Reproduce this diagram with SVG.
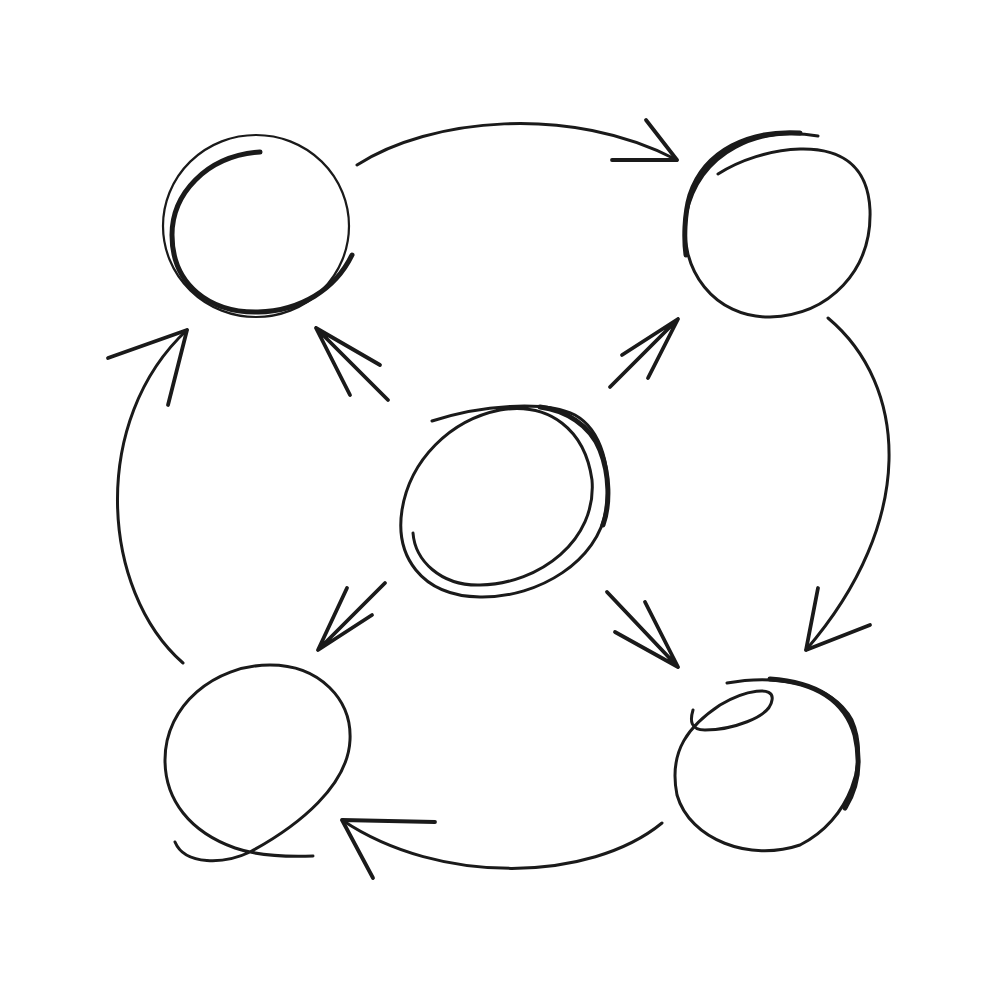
<svg xmlns="http://www.w3.org/2000/svg" width="1000" height="1000" viewBox="0 0 1000 1000">
  <style>
    .ink { fill: none; stroke: #1a1a1a; stroke-linecap: round; stroke-linejoin: round; }
    .thin { stroke-width: 2.2; }
    .mid { stroke-width: 3; }
    .thick { stroke-width: 5; }
    .barb { stroke-width: 3.8; }
  </style>
  <rect width="1000" height="1000" fill="#ffffff"/>

  <g id="node-top-left">
    <ellipse class="ink thin" cx="256" cy="226" rx="93" ry="91"/>
    <path class="ink thick" d="M260,152 C205,156 172,195 172,235 C172,285 210,313 258,312 C300,311 335,290 352,255"/>
  </g>

  <g id="node-top-right">
    <path class="ink mid" d="M818,136 C760,126 700,150 686,215 C678,270 715,318 770,317 C830,315 872,270 870,210 C868,165 840,148 800,149 C770,150 740,160 718,174"/>
    <path class="ink thick" d="M800,133 C750,130 705,150 690,195 C684,215 684,240 686,255"/>
  </g>

  <g id="node-center">
    <path class="ink mid" d="M432,421 C480,405 545,400 575,415 C602,430 612,470 606,510 C598,560 540,598 480,597 C420,596 395,555 402,510 C410,460 450,420 500,410 C550,402 585,430 592,480 C597,540 540,584 480,585 C440,586 415,560 413,533"/>
    <path class="ink thick" d="M540,407 C565,410 590,425 600,450 C610,475 610,505 603,525"/>
  </g>

  <g id="node-bottom-left">
    <path class="ink mid" d="M313,856 C285,857 255,855 235,848 C190,832 165,800 165,760 C165,705 215,665 270,665 C320,665 352,700 350,740 C348,785 300,825 250,852 C225,864 185,866 175,842"/>
  </g>

  <g id="node-bottom-right">
    <path class="ink mid" d="M727,683 C770,675 830,680 852,720 C870,760 850,820 800,845 C750,862 690,840 677,795 C668,750 690,725 720,705 C745,690 775,685 772,700 C770,718 730,730 705,730 C690,730 690,720 693,710"/>
    <path class="ink thick" d="M770,679 C815,682 845,700 855,735 C862,765 856,790 845,808"/>
  </g>

  <g id="connectors">
    <!-- top: top-left to top-right -->
    <path class="ink mid" d="M357,165 C430,118 570,104 677,160"/>
    <path class="ink barb" d="M646,120 L677,160 M612,160 L677,160"/>
    <!-- right: top-right to bottom-right -->
    <path class="ink mid" d="M828,318 C908,385 918,520 806,650"/>
    <path class="ink barb" d="M818,588 L806,650 L870,625"/>
    <!-- bottom: bottom-right to bottom-left -->
    <path class="ink mid" d="M662,823 C590,882 440,886 342,820"/>
    <path class="ink barb" d="M435,822 L342,820 L373,878"/>
    <!-- left: bottom-left to top-left -->
    <path class="ink mid" d="M183,663 C100,590 90,420 187,330"/>
    <path class="ink barb" d="M108,358 L187,330 L168,405"/>
    <!-- center to top-left -->
    <path class="ink barb" d="M388,400 L316,328 M380,365 L316,328 L350,395"/>
    <!-- center to top-right -->
    <path class="ink barb" d="M610,387 L678,319 M622,355 L678,319 L648,378"/>
    <!-- center to bottom-left -->
    <path class="ink barb" d="M385,583 L318,650 M347,588 L318,650 L372,615"/>
    <!-- center to bottom-right -->
    <path class="ink barb" d="M607,592 L678,667 M645,602 L678,667 L615,632"/>
  </g>
</svg>
